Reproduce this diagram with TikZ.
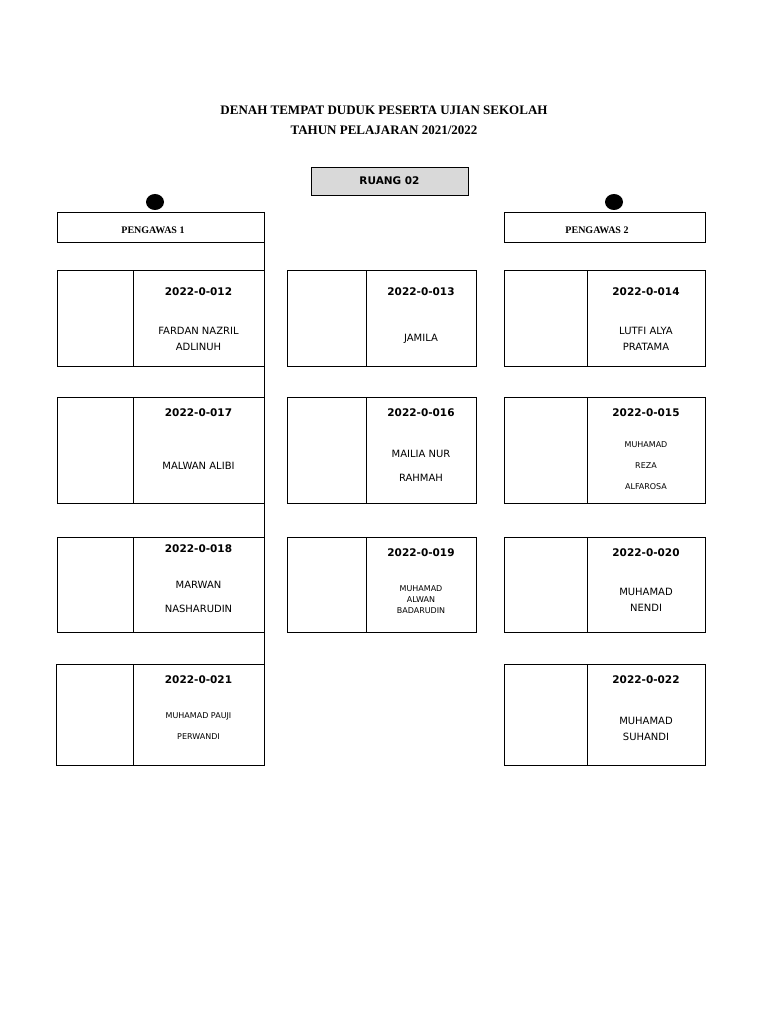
\documentclass[tikz,border=0pt]{standalone}
\usepackage{fontspec}
\setmainfont{Liberation Serif}
\newfontfamily\dv{DejaVu Sans}
\begin{document}
\begin{tikzpicture}[x=1pt,y=-1pt,
 bx/.style={draw,line width=0.8pt},
 idt/.style={font=\dv\bfseries\fontsize{10.5}{12}\selectfont},
 nm/.style={font=\dv\fontsize{10}{16}\selectfont,align=center},
 sm/.style={font=\dv\fontsize{8}{11}\selectfont,align=center},
 smw/.style={font=\dv\fontsize{8}{21}\selectfont,align=center},
 nmw/.style={font=\dv\fontsize{10}{24}\selectfont,align=center}]
\useasboundingbox (0,0) rectangle (768,1024);
\node[font=\bfseries\fontsize{13}{20}\selectfont,align=center] (title) at (384,120) {DENAH TEMPAT DUDUK PESERTA UJIAN SEKOLAH\\TAHUN PELAJARAN 2021/2022};
\draw[bx,fill=gray!30] (311,167) rectangle (468,195);
\node[font=\dv\bfseries\fontsize{10.5}{12}\selectfont] (ruang) at (389.5,181) {RUANG 02};
\fill (155,202) ellipse (9 and 8);
\fill (614,202) ellipse (9 and 8);
\draw[bx] (57,212) rectangle (264,242);
\node[font=\bfseries\fontsize{10}{12}\selectfont] (p1) at (153,230) {PENGAWAS 1};
\draw[bx] (504,212) rectangle (705,242);
\node[font=\bfseries\fontsize{10}{12}\selectfont] (p2) at (597,230) {PENGAWAS 2};
\draw[bx] (264,212) -- (264,765);
% desk macro: x1 split x2 y1 y2
\foreach \a/\s/\b/\c/\d in {57/133/264/270/366, 287/366/476/270/366, 504/587/705/270/366,
 57/133/264/397/503, 287/366/476/397/503, 504/587/705/397/503,
 57/133/264/537/632, 287/366/476/537/632, 504/587/705/537/632,
 56/133/264/664/765, 504/587/705/664/765}
 {\draw[bx] (\a,\c) rectangle (\b,\d); \draw[bx] (\s,\c) -- (\s,\d);}
\node[idt] (i12) at (198.5,292) {2022-0-012};
\node[nm] (n12) at (198.5,339) {FARDAN NAZRIL\\ADLINUH};
\node[idt] (i13) at (421,292) {2022-0-013};
\node[nm] (n13) at (421,339) {JAMILA};
\node[idt] (i14) at (646,292) {2022-0-014};
\node[nm] (n14) at (646,339) {LUTFI ALYA\\PRATAMA};
\node[idt] (i17) at (198.5,413) {2022-0-017};
\node[nm] (n17) at (198.5,466) {MALWAN ALIBI};
\node[idt] (i16) at (421,413) {2022-0-016};
\node[nmw] (n16) at (421,466) {MAILIA NUR\\RAHMAH};
\node[idt] (i15) at (646,413) {2022-0-015};
\node[smw] (n15) at (646,466) {MUHAMAD\\REZA\\ALFAROSA};
\node[idt] (i18) at (198.5,549) {2022-0-018};
\node[nmw] (n18) at (198.5,597) {MARWAN\\NASHARUDIN};
\node[idt] (i19) at (421,553) {2022-0-019};
\node[sm] (n19) at (421,600) {MUHAMAD\\ALWAN\\BADARUDIN};
\node[idt] (i20) at (646,553) {2022-0-020};
\node[nm] (n20) at (646,600) {MUHAMAD\\NENDI};
\node[idt] (i21) at (198.5,680) {2022-0-021};
\node[smw] (n21) at (198.5,726) {MUHAMAD PAUJI\\PERWANDI};
\node[idt] (i22) at (646,680) {2022-0-022};
\node[nm] (n22) at (646,729) {MUHAMAD\\SUHANDI};
\end{tikzpicture}
\end{document}
